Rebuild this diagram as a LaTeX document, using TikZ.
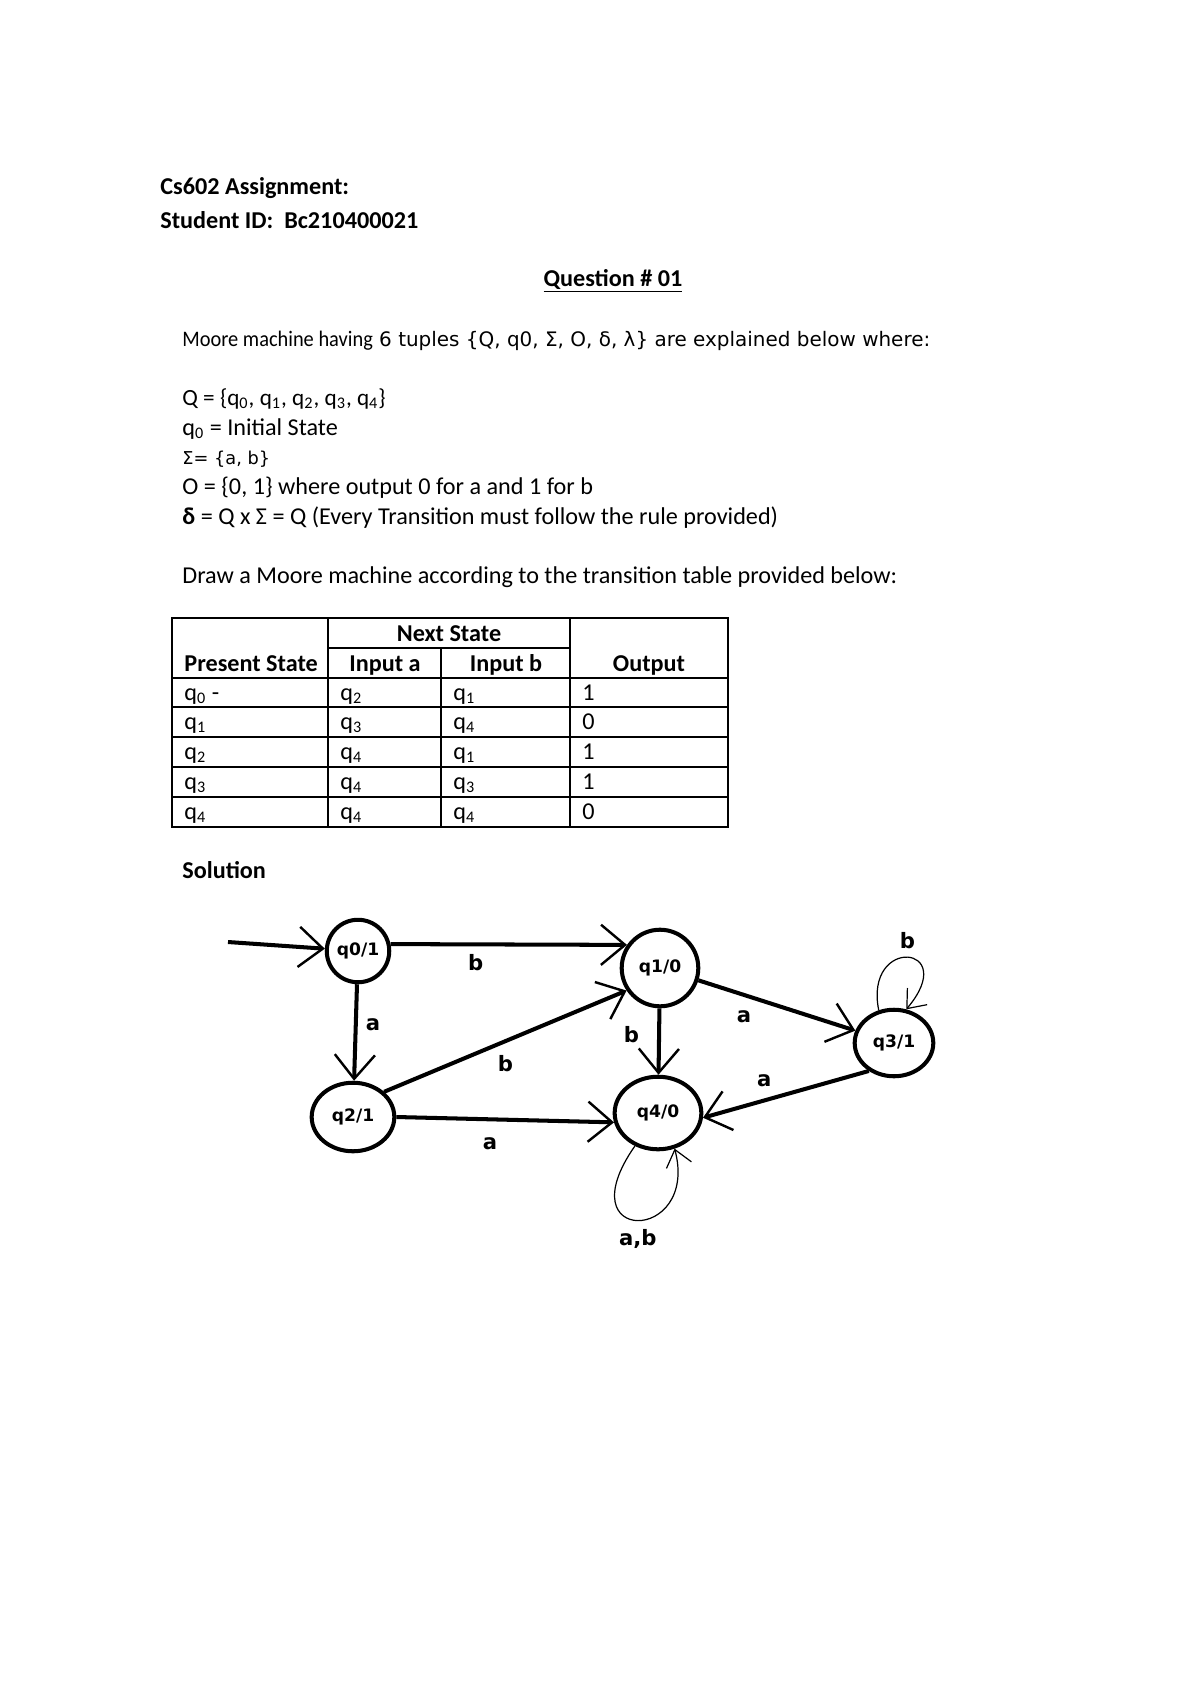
\documentclass[tikz,border=0pt]{standalone}
\usepackage{fontspec}
\setmainfont{Carlito}
\newfontfamily\condfont[FakeStretch=0.92]{Carlito}
\newfontfamily\tuplefont{DejaVu Sans}
\newfontfamily\statefont{DejaVu Sans}
\usetikzlibrary{arrows.meta,shapes.geometric}
\tikzset{
  txt/.style={anchor=base west,inner sep=0pt,font=\fontsize{12}{14}\selectfont},
  txtbold/.style={txt,font=\fontsize{12}{14}\selectfont\bfseries},
  cellhead/.style={anchor=base,inner sep=0pt,font=\fontsize{12}{14}\selectfont\bfseries},
  tabrule/.style={line width=.8pt},
  state/.style={draw,circle,line width=2pt,inner sep=0pt,
    font=\statefont\bfseries\fontsize{8.5}{10}\selectfont},
  stateoval/.style={state,ellipse},
  arrow/.style={-{Straight Barb[length=4.2mm,width=7mm,line width=1.2pt]},line width=2pt},
  selfloop/.style={-{Straight Barb[length=2.8mm,width=4.5mm,line width=.6pt]},line width=.6pt},
  edgeword/.style={inner sep=1pt,font=\statefont\bfseries\fontsize{10.5}{12}\selectfont}
}

\begin{document}
\begin{tikzpicture}[x=0.49608pt,y=-0.49608pt]
\fill[white] (0,0) rectangle (1200,1696);
\useasboundingbox (0,0) rectangle (1200,1696);

% header text
\node[txtbold] (title) at (160,194) {Cs602 Assignment:};
\node[txtbold] (student) at (160,228) {Student ID:\ \ Bc210400021};
\node[cellhead] (question) at (613,286) {\underline{Question \# 01}};

\node[txt] (tuples) at (182,346) {\condfont\fontsize{11}{13}\selectfont Moore machine having{\tuplefont\fontsize{9.9}{12}\selectfont{} 6 tuples \{Q, q0, Σ, O, δ, λ\} are explained below where:}};
\node[txt] (setq) at (182,405) {\fontsize{11.5}{13}\selectfont Q = \{q\textsubscript{0}, q\textsubscript{1}, q\textsubscript{2}, q\textsubscript{3}, q\textsubscript{4}\}};
\node[txt] (init) at (182,435) {q\textsubscript{0} = Initial State};
\node[txt] (sigma) at (182,464) {\tuplefont\fontsize{8.8}{11}\selectfont Σ= \{a, b\}};
\node[txt] (outset) at (182,494) {O = \{0, 1\} where output 0 for a and 1 for b};
\node[txt] (delta) at (182,524) {\textbf{δ} = Q x Σ = Q (Every Transition must follow the rule provided)};
\node[txt] (task) at (182,583) {Draw a Moore machine according to the transition table provided below:};

% transition table
\draw[tabrule] (172,618) rectangle (728,827);
\draw[tabrule] (328,618) -- (328,827);
\draw[tabrule] (570,618) -- (570,827);
\draw[tabrule] (441,648) -- (441,827);
\draw[tabrule] (328,648) -- (570,648);
\draw[tabrule] (172,678) -- (728,678);
\draw[tabrule] (172,707) -- (728,707);
\draw[tabrule] (172,737) -- (728,737);
\draw[tabrule] (172,767) -- (728,767);
\draw[tabrule] (172,797) -- (728,797);

\node[cellhead] (hnext) at (449,641) {Next State};
\node[txtbold] (hpresent) at (184,671) {Present State};
\node[cellhead] (hina) at (385,671) {Input a};
\node[cellhead] (hinb) at (506,671) {Input b};
\node[cellhead] (hout) at (649,671) {Output};

\node[txt] (p0) at (184,700) {q\textsubscript{0} -};
\node[txt] (a0) at (340,700) {q\textsubscript{2}};
\node[txt] (b0) at (453,700) {q\textsubscript{1}};
\node[txt] (o0) at (582,700) {1};
\node[txt] (p1) at (184,729) {q\textsubscript{1}};
\node[txt] (a1) at (340,729) {q\textsubscript{3}};
\node[txt] (b1) at (453,729) {q\textsubscript{4}};
\node[txt] (o1) at (582,729) {0};
\node[txt] (p2) at (184,759) {q\textsubscript{2}};
\node[txt] (a2) at (340,759) {q\textsubscript{4}};
\node[txt] (b2) at (453,759) {q\textsubscript{1}};
\node[txt] (o2) at (582,759) {1};
\node[txt] (p3) at (184,789) {q\textsubscript{3}};
\node[txt] (a3) at (340,789) {q\textsubscript{4}};
\node[txt] (b3) at (453,789) {q\textsubscript{3}};
\node[txt] (o3) at (582,789) {1};
\node[txt] (p4) at (184,819) {q\textsubscript{4}};
\node[txt] (a4) at (340,819) {q\textsubscript{4}};
\node[txt] (b4) at (453,819) {q\textsubscript{4}};
\node[txt] (o4) at (582,819) {0};

\node[txtbold] (solution) at (182,878) {Solution};

% Moore machine
\node[state,minimum size=31pt] (q0) at (358,951) {q0/1};
\node[state,minimum size=38pt] (q1) at (660,968) {q1/0};
\node[stateoval,minimum width=41pt,minimum height=34pt] (q2) at (353,1117) {q2/1};
\node[stateoval,minimum width=43pt,minimum height=36pt] (q4) at (658,1113) {q4/0};
\node[stateoval,minimum width=39pt,minimum height=33pt] (q3) at (894,1043) {q3/1};

\coordinate (start) at (228,942);
\draw[arrow] (start) -- (q0);
\draw[arrow] (q0.12) -- node[edgeword,pos=.36,below=3pt]{b} (q1.145);
\draw[arrow] (q0) -- node[edgeword,pos=.42,right=3pt]{a} (q2);
\draw[arrow] (q2.39) -- node[edgeword,pos=.5,below=5pt]{b} (q1.214);
\draw[arrow] (q2.east) -- node[edgeword,pos=.43,below=7pt]{a} (q4.192);
\draw[arrow] (q1) -- node[edgeword,pos=.4,left=8pt]{b} (q4);
\draw[arrow] (q1) -- node[edgeword,pos=.29,below=6pt]{a} (q3);
\draw[arrow] (q3.228) -- node[edgeword,pos=.63,above=5pt]{a} (q4.354);
\draw[selfloop] (q3.115) .. controls +(-15,-75) and +(55,-65) .. node[edgeword,above=3pt]{b} (q3.70);
\draw[selfloop] (q4.235) .. controls +(-70,100) and +(25,95) .. node[edgeword,below=3pt]{a,b} (q4.295);
\end{tikzpicture}
\end{document}
